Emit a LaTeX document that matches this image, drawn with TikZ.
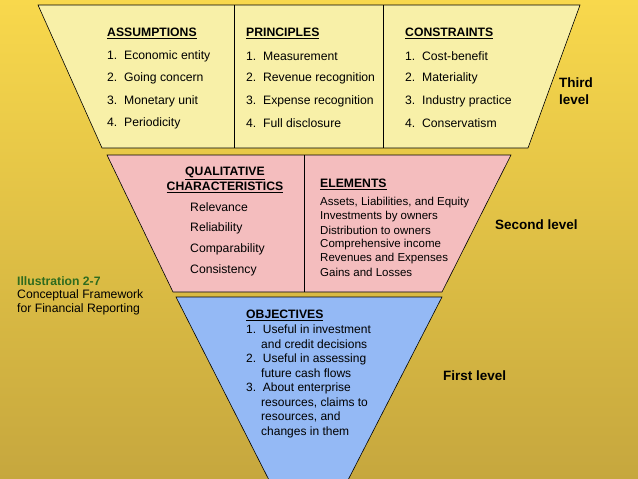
\documentclass[tikz,border=0pt]{standalone}
\usepackage{fontspec}
\setmainfont{Liberation Sans}
\definecolor{bgtop}{HTML}{F8D84C}
\definecolor{bgbot}{HTML}{C6A73E}
\definecolor{third}{HTML}{F8F0A8}
\definecolor{second}{HTML}{F4BDBE}
\definecolor{first}{HTML}{94B9F5}
\definecolor{illgreen}{HTML}{2E6B1E}
\tikzset{
  txt/.style={anchor=west, inner sep=0pt, font=\fontsize{12.2}{14}\selectfont},
  head/.style={txt, font=\fontsize{12.2}{14}\selectfont\bfseries},
  lvl/.style={anchor=west, inner sep=0pt, align=left, font=\fontsize{13.5}{17}\selectfont\bfseries},
  band/.style={draw=black, line width=0.6pt}
}
\begin{document}
\begin{tikzpicture}[x=1pt,y=-1pt]
    \useasboundingbox (0,0) rectangle (638,479);
    % Background
    \shade[top color=bgtop, bottom color=bgbot] (0,0) rectangle (638,479);

    % Third level
    \draw[band, fill=third] (38,5) -- (580,5) -- (528,148) -- (102,148) -- cycle;
    \draw (234,5) -- (234,148);
    \draw (383,5) -- (383,148);
    \node[head] (assum) at (107,33) {\underline{ASSUMPTIONS}};
    \node[head] (princ) at (246,33) {\underline{PRINCIPLES}};
    \node[head] (const) at (405,33) {\underline{CONSTRAINTS}};
    \foreach \t [count=\i] in {Economic entity, Going concern, Monetary unit, Periodicity}
        \node[txt] (assum\i) at (107,34+\i*22.3) {\i.~~\t};
    \foreach \t [count=\i] in {Measurement, Revenue recognition, Expense recognition, Full disclosure}
        \node[txt] (princ\i) at (246,34+\i*22.3) {\i.~~\t};
    \foreach \t [count=\i] in {Cost-benefit, Materiality, Industry practice, Conservatism}
        \node[txt] (const\i) at (405,34+\i*22.3) {\i.~~\t};
    \node[lvl] (third) at (559,91) {Third\\level};

    % Second level
    \draw[band, fill=second] (107,155) -- (511,155) -- (442,292) -- (173,292) -- cycle;
    \draw (304,155) -- (304,292);
    \node[head, anchor=center, align=center] (qual) at (225,180)
        {\underline{QUALITATIVE}\\[1pt]\underline{CHARACTERISTICS}};
    \foreach \t [count=\i] in {Relevance, Reliability, Comparability, Consistency}
        \node[txt] (qual\i) at (190,186+\i*21) {\t};
    \node[head] (elem) at (320,184) {\underline{ELEMENTS}};
    \foreach \t [count=\i] in {{Assets, Liabilities, and Equity}, Investments by owners,
        Distribution to owners, Comprehensive income, Revenues and Expenses, Gains and Losses}
        \node[txt, font=\fontsize{11.5}{13}\selectfont] (elem\i) at (320,189+\i*13.9) {\t};
    \node[lvl] (second) at (495,225) {Second level};

    % First level
    \draw[band, fill=first] (176,297) -- (442,297) -- (347,482) -- (270,482) -- cycle;
    \node[head] (obj) at (246,315) {\underline{OBJECTIVES}};
    \node[txt, align=left, anchor=north west, font=\fontsize{12}{14.5}\selectfont] (objlist) at (246,325)
        {1.~~Useful in investment\\
         \hspace{15pt}and credit decisions\\
         2.~~Useful in assessing\\
         \hspace{15pt}future cash flows\\
         3.~~About enterprise\\
         \hspace{15pt}resources, claims to\\
         \hspace{15pt}resources, and\\
         \hspace{15pt}changes in them};
    \node[lvl] (first) at (443,376) {First level};

    % Caption
    \node[txt, font=\fontsize{12.2}{14}\selectfont\bfseries, text=illgreen] (ill) at (17,281) {Illustration 2-7};
    \node[txt, align=left, anchor=north west, font=\fontsize{12.2}{14.5}\selectfont] (cap) at (17,289)
        {Conceptual Framework\\for Financial Reporting};
\end{tikzpicture}
\end{document}
